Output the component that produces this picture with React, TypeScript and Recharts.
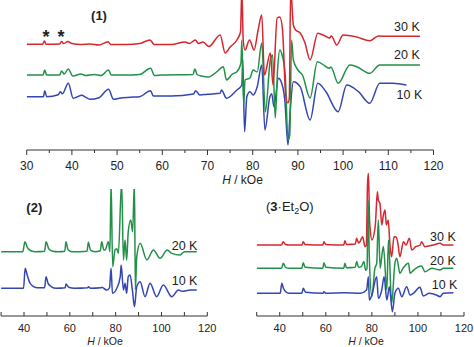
import React from 'react';
import { LineChart, Line, XAxis, YAxis } from 'recharts';

// ---------- DATA (field H in kOe, relative EPR intensity, arb. units) ----------
// Panel (1)
const p1_30K: [number, number][] = [
  [30, 0], [33.5, 0], [33.9, 3.3], [34.3, 0], [37.3, 0.3], [37.7, 2.8], [38.2, 0.8], [39.1, 2.8], [40, 0.8],
  [42, -0.2], [44, 0.3], [46, -0.7], [48, 2.6], [48.6, -0.2], [52, -0.2], [55, 0.8], [57.3, 4.3], [58.2, -0.2],
  [62, -0.2], [65, 2.3], [66, 0.8], [67.3, 4.3], [68, 0.8], [69, 2.3], [70.3, -2.2], [72.8, 9.3], [73.9, -8.7],
  [75, -2.7], [76.5, 4.3], [77.3, 12.3], [77.6, 55], [77.9, 4.3], [78.3, -5.7], [79.3, 4.3], [80.3, -5.7],
  [81.2, 14.3], [82, 29.3], [82.6, -30.7], [83.9, -8.7], [84.5, -40.7], [85.4, 26.3], [86, 27.3], [86.6, 14.3],
  [87.3, -50.7], [87.8, -58.7], [88.1, -53.7], [88.4, 55], [89, 19.3], [89.5, 14.3], [90.5, 11.3], [91.5, 2.3],
  [92.7, -15.7], [94.4, 11], [96, 8.3], [97, 6.3], [97.4, 8.3], [98.6, -0.7], [100, 9.3], [103, 7.3],
  [105.9, 3.6], [107.8, 8.3], [110, 8], [117, 8],
];
const p1_20K: [number, number][] = [
  [30, 0], [33.6, 0], [34.0, 5], [34.4, 0], [37.3, 0], [37.7, 4], [38.3, 1], [39.2, 6], [40.2, -1], [42, 1],
  [43, -0.5], [45, 0.5], [46.5, -0.5], [48.1, 5], [48.7, 0], [52, 0], [55, 0.5], [57.4, 6.7], [58.3, -0.5],
  [60, 0], [66.8, 0.5], [67.2, 6], [67.7, 0.5], [68.7, -1], [70.2, -2], [72, 3], [73.5, 8.3], [74.2, -5],
  [75.5, 1], [76.5, 3.3], [77.4, 12], [77.6, 35], [78.0, -30], [78.3, -5], [79.4, -3], [80.1, 5], [81, 3],
  [82, 32], [82.8, -37], [83.9, 15], [84.4, 20], [85.0, -43], [85.5, 5], [86, 25], [86.5, 20], [87.2, 0],
  [87.8, -65], [88.2, -60], [88.6, 35], [89, 15], [90, 5], [91, 0], [92.7, -23], [94.3, 13.3], [96, 9],
  [96.9, 6.7], [97.3, 8], [98.9, -8.3], [101.5, 10], [103, 8.3], [105.9, 1.7], [108.1, 10], [110, 10], [117, 10],
];
const p1_10K: [number, number][] = [
  [30, 0], [33.7, 0], [34.0, 6], [34.4, 0], [37.0, 2], [37.4, 5], [37.9, 3], [39.2, 13.4], [40.3, -1.6],
  [41, -0.5], [42.2, 1.5], [43, -0.5], [44, -2.6], [46, -1], [48.1, 7.4], [49.2, -2.6], [50.5, -1.5],
  [52.9, -0.6], [55, 0], [57.4, 6], [58, 0.7], [62, 0.7], [66.9, 2.7], [67.4, 6], [68.3, 1.7], [70, 2.5],
  [72.8, 3.4], [73.1, 6.7], [74.2, -1.6], [76.5, 6.7], [77.6, 11.7], [77.8, 36.7], [78.2, -35], [78.7, 0],
  [79.4, 5], [80.1, 1.7], [81, 10], [82, 31.7], [82.7, -33.3], [83.8, 0], [84.2, 3], [84.7, -10], [85.7, 18.4],
  [86.3, 15], [87.1, -3.3], [87.8, -48.3], [88.3, -13.3], [89, 15], [90.5, 10], [92.7, -23.3], [94.4, 13.4],
  [96.2, 5], [98.9, -15], [100.8, 11.7], [103.4, 5], [105.9, -6.6], [108.1, 13.4], [111, 13.4], [114, 11.7],
];
const p1Offsets = { k30: 105.7, k20: 75, k10: 53.3 };

// Panel (2)
const p2_20K: [number, number][] = [
  [30, 0], [39.5, 0], [40.4, 10], [41.5, 4], [43, 1], [45, 0], [49.0, 0.5], [49.6, 10], [50.8, 3], [52.5, 0.5],
  [55, 0], [57.8, 0.5], [58.3, 10], [59.2, 2], [61, 0], [67.5, 0.5], [68.1, 9.5], [69, 1.5], [71, 0], [73.3, 1],
  [73.9, 10], [74.8, 2], [75.4, 1.7], [76.8, 10], [77.5, 0], [78.0, 70], [78.7, -15], [79.7, 1.7], [80.5, 3],
  [81.2, -1.7], [82.6, 70], [83.4, -8.3], [84.1, 11.7], [84.8, -8.3], [85.5, 20], [86.6, 31.7], [87.4, 20],
  [88.2, 70], [88.6, -38], [89.2, -5], [90.7, 8.4], [93.6, -8.3], [96.5, 1.7], [99.4, -6.6], [102.5, 1.7],
  [104.5, -1.7], [108.1, -3.3], [110, 0], [115.4, 0],
];
const p2_10K: [number, number][] = [
  [30, 0], [39.8, 0], [40.5, 20], [41.3, 14], [42.6, 5.3], [44, 2], [46, 0.5], [49, 0.5], [49.6, 11.6],
  [50.5, 5], [52, 1.5], [54, 0], [58, 0.5], [58.3, 4.3], [59.5, 1], [62, 0], [67.8, 0.5], [68.1, 1.6], [69, 0],
  [73.6, 0.5], [74, 1], [76, -1.7], [77.3, 0.5], [78.0, 20], [78.6, -5], [80.5, 0], [82, 11.6], [82.4, 23.3],
  [83.4, -1.7], [84.1, 5], [84.8, -5], [85.5, 11.6], [86.3, 13.3], [87.3, -1.7], [88.2, -18.4], [89.2, 1.6],
  [90.7, 6.6], [92.8, -8.4], [95, 5], [97.9, -8.4], [100.8, 3.3], [104.5, -8.4], [107.4, -1.7], [109, -3],
  [112.5, -1.7], [115.4, -1.7],
];
const p2Offsets = { k20: 64.3, k10: 27.7 };

// Panel (3·Et2O)
const p3_30K: [number, number][] = [
  [30, 0], [40.8, 0], [41.5, 3.3], [42.5, 0.5], [44, 0], [49.6, 0], [50.2, 3.3], [51, 0.5], [58.7, 0],
  [59.2, 3.3], [60, 0.5], [67.8, 0], [68.3, 4.3], [69, 0.5], [72.8, 1], [73.4, 6.7], [74.2, 2], [74.8, 3.3],
  [76, 8.3], [77, -1.7], [77.6, 0], [78.1, 60], [78.5, 72], [79.0, 25], [79.3, 15], [80, 5], [81.5, 20],
  [82.4, 53.3], [82.8, 45], [83.5, 41.7], [84.3, 20], [85.0, 30], [85.7, 35], [86.3, 20], [87.1, 25],
  [87.9, -1.7], [88.6, -11.7], [89.6, 8.3], [90.5, 8], [91.2, 3], [92.2, -11.7], [93.7, 3.3], [94.8, 0],
  [96.3, 6.7], [97.3, -5], [99, -1.7], [101, 0], [101.6, 3.3], [103, -1.7], [106.7, 0], [109.6, 1.7], [111, 0],
  [115.4, 0],
];
const p3_20K: [number, number][] = [
  [30, 0], [40.8, 0], [41.5, 5], [42.5, 1], [44, 0], [49.6, 0], [50.2, 5.5], [51, 1], [58.7, 0], [59.2, 5.5],
  [60, 1], [67.8, 0], [68.3, 5], [69, 0.5], [72.8, 1], [73.4, 6.7], [74.2, 1], [75.5, 2], [76.5, 6.7],
  [77.3, -2], [77.9, 0], [78.4, 68], [78.9, 10], [80, -28.4], [81.3, 0], [82.1, 5], [82.8, 48.3], [83.6, 0],
  [84.2, 10], [85, 21.7], [86.5, -21.7], [87.2, 28.3], [88.6, -35], [90, 5], [90.8, 10], [92.2, -5], [93.5, 0],
  [95.9, 5], [96.6, -5], [98, -2], [101.6, 2.3], [103, -3.4], [106, 0], [109.6, -1.7], [111, 0], [115.4, 0],
];
const p3_10K: [number, number][] = [
  [30, 0], [40.2, 0], [40.9, 10], [41.6, 5], [42.6, 1.6], [44, 0], [49.6, 0], [50.2, 5], [51.2, 1], [58.8, 0],
  [59.2, 1.6], [60, 0], [68, 0.5], [75, 0], [77.7, 3.3], [78.5, 16.6], [78.9, -6.7], [80, -1.7], [82.1, 16.6],
  [82.8, -5], [84.3, 3.3], [85.3, 16.6], [86.5, -6.7], [87.6, 6.6], [88.9, -18.4], [90, 0], [91.5, 5],
  [93, -3.4], [95.1, 6.6], [96.6, -1.7], [98, 0], [100.9, 6], [102.3, -2.7], [105, 0], [108, -1.7],
  [109.6, -3.4], [111, 0], [115.4, 0.6],
];
const p3Offsets = { k30: 71, k20: 47.7, k10: 22.7 };

// Axis ticks (kOe)
const ticksTop = [30, 35, 40, 45, 50, 55, 60, 65, 70, 75, 80, 85, 90, 95, 100, 105, 110, 115, 120];
const labelsTop = [30, 40, 50, 60, 70, 80, 90, 100, 110, 120];
const ticksBottom = [30, 40, 50, 60, 70, 80, 90, 100, 110, 120];
const labelsBottom = [40, 60, 80, 100, 120];

// ---------- STYLE ----------
const RED = '#d6262f';
const GREEN = '#23904a';
const BLUE = '#3446b3';
const FONT = '"Liberation Sans", Arial, Helvetica, sans-serif';
const SW = 1.5;

const toData = (pts: [number, number][], off: number) => pts.map(([h, v]) => ({ h, v: v + off }));

const makeTick = (labels: number[], dir: 1 | -1, majorLen: number, minorLen: number, fs: number, dy: number) =>
  (props: any) => {
    const { x, y, payload } = props;
    const val = payload.value as number;
    const major = val % 10 === 0;
    const len = dir === 1 ? (major ? majorLen : minorLen) : majorLen;
    return (
      <g>
        <line x1={x} x2={x} y1={y} y2={y + dir * len} stroke="#333" strokeWidth={1} />
        {labels.includes(val) && (
          <text x={x} y={y + dy} textAnchor="middle" fontSize={fs} fontFamily={FONT} fill="#222">
            {val}
          </text>
        )}
      </g>
    );
  };

const tickTop = makeTick(labelsTop, 1, 5, 3, 12, 19.5);
const tickBottom = makeTick(labelsBottom, -1, 4, 4, 11, 16.3);

const Series = (d: { h: number; v: number }[], color: string, key: string) => (
  <Line
    key={key}
    data={d}
    dataKey="v"
    type="monotone"
    stroke={color}
    strokeWidth={SW}
    dot={false}
    activeDot={false}
    isAnimationActive={false}
  />
);

const T = (p: { x: number; y: number; children: React.ReactNode; anchor?: string; fs?: number; bold?: boolean }) => (
  <text
    x={p.x}
    y={p.y}
    textAnchor={(p.anchor as any) || 'start'}
    fontSize={p.fs || 12.5}
    fontWeight={p.bold ? 'bold' : 'normal'}
    fontFamily={FONT}
    fill="#222"
  >
    {p.children}
  </text>
);

const AxisTitle = ({ x, y, fs = 12 }: { x: number; y: number; fs?: number }) => (
  <text x={x} y={y} textAnchor="middle" fontSize={fs} fontFamily={FONT} fill="#222">
    <tspan fontStyle="italic">H</tspan>
    <tspan> / kOe</tspan>
  </text>
);

export default function App() {
  return (
    <div style={{ position: 'absolute', left: 0, top: 0, width: 474, height: 347, background: '#fff', overflow: 'hidden' }}>
      {/* Panel (1) */}
      <div style={{ position: 'absolute', left: 0, top: 0 }}>
        <LineChart width={474} height={185} margin={{ top: 0, right: 40.5, left: 26.7, bottom: 0 }}>
          <XAxis type="number" dataKey="h" domain={[30, 120]} ticks={ticksTop} interval={0} tickSize={0} tickMargin={0}
            tick={tickTop} axisLine={{ stroke: '#333' }} tickLine={false} height={35} allowDataOverflow />
          <YAxis hide type="number" domain={[0, 150]} allowDataOverflow />
          {Series(toData(p1_10K, p1Offsets.k10), BLUE, 'a')}
          {Series(toData(p1_20K, p1Offsets.k20), GREEN, 'b')}
          {Series(toData(p1_30K, p1Offsets.k30), RED, 'c')}
        </LineChart>
      </div>
      {/* Panel (2) */}
      <div style={{ position: 'absolute', left: 0, top: 189 }}>
        <LineChart width={240} height={158} margin={{ top: 0, right: 32.7, left: 1.1, bottom: 0 }}>
          <XAxis type="number" dataKey="h" domain={[30, 120]} ticks={ticksBottom} interval={0} tickSize={0} tickMargin={0}
            tick={tickBottom} axisLine={{ stroke: '#333' }} tickLine={false} height={31} allowDataOverflow />
          <YAxis hide type="number" domain={[0, 127]} allowDataOverflow />
          {Series(toData(p2_10K, p2Offsets.k10), BLUE, 'a')}
          {Series(toData(p2_20K, p2Offsets.k20), GREEN, 'b')}
        </LineChart>
      </div>
      {/* Panel (3·Et2O) */}
      <div style={{ position: 'absolute', left: 240, top: 173 }}>
        <LineChart width={234} height={174} margin={{ top: 0, right: 10, left: 16.7, bottom: 0 }}>
          <XAxis type="number" dataKey="h" domain={[30, 120]} ticks={ticksBottom} interval={0} tickSize={0} tickMargin={0}
            tick={tickBottom} axisLine={{ stroke: '#333' }} tickLine={false} height={31} allowDataOverflow />
          <YAxis hide type="number" domain={[0, 143]} allowDataOverflow />
          {Series(toData(p3_30K, p3Offsets.k30), RED, 'c')}
          {Series(toData(p3_20K, p3Offsets.k20), GREEN, 'b')}
          {Series(toData(p3_10K, p3Offsets.k10), BLUE, 'a')}
        </LineChart>
      </div>
      {/* Annotations */}
      <svg width={474} height={347} style={{ position: 'absolute', left: 0, top: 0, pointerEvents: 'none' }}>
        <T x={99} y={19.5} anchor="middle" fs={13} bold>(1)</T>
        <T x={46} y={43} anchor="middle" fs={18} bold>*</T>
        <T x={61} y={43} anchor="middle" fs={18} bold>*</T>
        <T x={394} y={30.5}>30 K</T>
        <T x={394} y={59}>20 K</T>
        <T x={396.5} y={98.5}>10 K</T>
        <AxisTitle x={242.5} y={184} />

        <T x={34.3} y={211.5} anchor="middle" fs={13} bold>(2)</T>
        <T x={171.7} y={249.5}>20 K</T>
        <T x={171.7} y={284.5}>10 K</T>
        <AxisTitle x={105} y={345} fs={10.5} />

        <text x={266} y={211} fontSize={13} fontFamily={FONT} fill="#222">
          <tspan>(</tspan>
          <tspan fontWeight="bold">3</tspan>
          <tspan>·Et</tspan>
          <tspan fontSize={9} dy={3}>2</tspan>
          <tspan dy={-3}>O)</tspan>
        </text>
        <T x={430} y={241}>30 K</T>
        <T x={430} y={264.5}>20 K</T>
        <T x={431.7} y={288.5}>10 K</T>
        <AxisTitle x={366} y={345} fs={10.5} />
      </svg>
    </div>
  );
}
